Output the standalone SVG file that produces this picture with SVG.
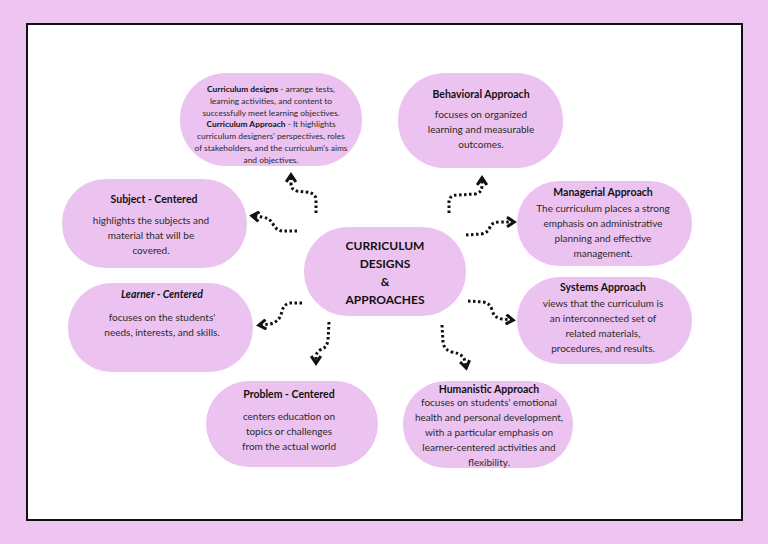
<svg xmlns="http://www.w3.org/2000/svg" width="768" height="544" viewBox="0 0 768 544">
<defs>
<style>
.n{fill:#ecc3f0}
.t{font-family:"Lato","Liberation Sans",sans-serif;font-size:10px;fill:#2a2a2a;text-anchor:middle}
.s{font-size:8.4px}
.h{font-weight:bold;font-size:10.5px;fill:#111}
.c{fill:none;stroke:#111;stroke-width:3;stroke-dasharray:2.5 2.5}
</style>
<marker id="a" viewBox="0 0 10 10" refX="6" refY="5" markerWidth="4" markerHeight="4" orient="auto" markerUnits="strokeWidth">
<path d="M1,1 L7,5 L1,9" fill="none" stroke="#111" stroke-width="2.5"/>
</marker>
</defs>
<rect width="768" height="544" fill="#eec4f1"/>
<rect x="27" y="24" width="715" height="496" fill="#fff" stroke="#111" stroke-width="2"/>
<g id="center"><rect class="n" x="304" y="227" width="162" height="89" rx="44"/>
<text class="t" style="font-weight:bold;font-size:12px;fill:#111"><tspan x="385" y="250">CURRICULUM</tspan><tspan x="385" y="268">DESIGNS</tspan><tspan x="385" y="286">&amp;</tspan><tspan x="385" y="304">APPROACHES</tspan></text></g>
<g id="definitions"><rect class="n" x="180" y="73" width="182" height="93" rx="46"/>
<text class="t s"><tspan x="271" y="92"><tspan font-weight="bold" fill="#111">Curriculum designs</tspan> - arrange tests,</tspan><tspan x="271" y="104">learning activities, and content to</tspan><tspan x="271" y="116">successfully meet learning objectives.</tspan><tspan x="271" y="127"><tspan font-weight="bold" fill="#111">Curriculum Approach</tspan> - It highlights</tspan><tspan x="271" y="139">curriculum designers' perspectives, roles</tspan><tspan x="271" y="151">of stakeholders, and the curriculum's aims</tspan><tspan x="271" y="163">and objectives.</tspan></text></g>
<g id="behavioral"><rect class="n" x="398" y="73" width="165" height="95" rx="47"/>
<text class="t"><tspan class="h" x="481" y="98">Behavioral Approach</tspan><tspan x="481" y="118">focuses on organized</tspan><tspan x="481" y="133">learning and measurable</tspan><tspan x="481" y="148">outcomes.</tspan></text></g>
<g id="subject"><rect class="n" x="62" y="179" width="185" height="89" rx="44"/>
<text class="t"><tspan class="h" x="154" y="203">Subject - Centered</tspan><tspan x="151" y="224">highlights the subjects and</tspan><tspan x="151" y="239">material that will be</tspan><tspan x="151" y="254">covered.</tspan></text></g>
<g id="managerial"><rect class="n" x="517" y="181" width="175" height="85" rx="42"/>
<text class="t"><tspan class="h" x="603" y="196">Managerial Approach</tspan><tspan x="603" y="212">The curriculum places a strong</tspan><tspan x="603" y="227">emphasis on administrative</tspan><tspan x="603" y="242">planning and effective</tspan><tspan x="603" y="257">management.</tspan></text></g>
<g id="learner"><rect class="n" x="68" y="283" width="185" height="89" rx="44"/>
<text class="t"><tspan class="h" x="162" y="298" font-style="italic">Learner - Centered</tspan><tspan x="162" y="321">focuses on the students'</tspan><tspan x="162" y="336">needs, interests, and skills.</tspan></text></g>
<g id="systems"><rect class="n" x="517" y="277" width="175" height="87" rx="43"/>
<text class="t"><tspan class="h" x="603" y="291">Systems Approach</tspan><tspan x="603" y="307">views that the curriculum is</tspan><tspan x="603" y="322">an interconnected set of</tspan><tspan x="603" y="337">related materials,</tspan><tspan x="603" y="352">procedures, and results.</tspan></text></g>
<g id="problem"><rect class="n" x="206" y="381" width="172" height="86" rx="43"/>
<text class="t"><tspan class="h" x="289" y="398">Problem - Centered</tspan><tspan x="289" y="420">centers education on</tspan><tspan x="289" y="435">topics or challenges</tspan><tspan x="289" y="450">from the actual world</tspan></text></g>
<g id="humanistic"><rect class="n" x="403" y="381" width="170" height="87" rx="43"/>
<text class="t"><tspan class="h" x="489" y="393">Humanistic Approach</tspan><tspan x="489" y="406">focuses on students' emotional</tspan><tspan x="489" y="421">health and personal development,</tspan><tspan x="489" y="436">with a particular emphasis on</tspan><tspan x="489" y="451">learner-centered activities and</tspan><tspan x="489" y="466">flexibility.</tspan></text></g>
<g id="connectors">
<path class="c" marker-end="url(#a)" d="M316,213 L316,200 Q316,193 306,192 L297,191 Q291,190 291,183 L291,176"/>
<path class="c" marker-end="url(#a)" d="M297,231 L282,231 Q276,230 273,224 Q270,218 262,217 L253,216"/>
<path class="c" marker-end="url(#a)" d="M449,213 L449,202 Q449,195 458,195 L475,194 Q482,193 482,185 L482,179"/>
<path class="c" marker-end="url(#a)" d="M466,235 L481,234 Q488,233 490,227 Q492,222 500,222 L513,222"/>
<path class="c" marker-end="url(#a)" d="M468,301 L483,302 Q490,303 492,310 Q494,318 502,319 L512,320"/>
<path class="c" marker-end="url(#a)" d="M302,303 L290,303 Q284,304 282,311 Q280,322 270,324 L260,325"/>
<path class="c" marker-end="url(#a)" d="M329,322 L328,340 Q327,348 320,350 Q316,352 316,358 L316,362"/>
<path class="c" marker-end="url(#a)" d="M442,325 L443,342 Q444,350 452,352 Q464,354 465,362 L466,367"/>
</g>
</svg>
